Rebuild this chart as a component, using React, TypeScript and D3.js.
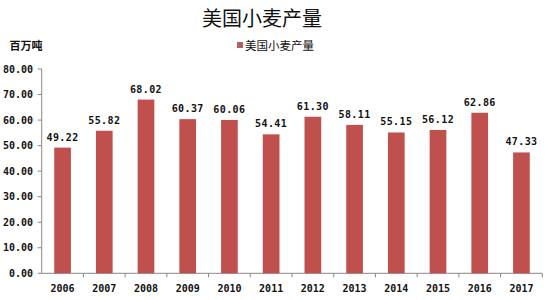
import React from "react";
import * as d3 from "d3";

const years = ["2006","2007","2008","2009","2010","2011","2012","2013","2014","2015","2016","2017"];
const values = [49.22,55.82,68.02,60.37,60.06,54.41,61.30,58.11,55.15,56.12,62.86,47.33];
const yTicks = [0,10,20,30,40,50,60,70,80];
const title = "美国小麦产量";
const seriesName = "美国小麦产量";
const unitLabel = "百万吨";

export default function App() {
  const W = 550, H = 300;
  const left = 41.7, right = 542.3, top = 69, bottom = 273.3;
  const x = d3.scaleBand<string>().domain(years).range([left, right]).paddingInner(0.6).paddingOuter(0.3);
  const y = d3.scaleLinear().domain([0, 80]).range([bottom, top]);
  const color = "#C0504D";
  const axisColor = "#888";
  const step = x.step();
  const monoFont = "'DejaVu Sans Mono', 'Liberation Mono', monospace";
  return (
    <svg width={W} height={H} style={{ position: "absolute", left: 0, top: 0, background: "#fff" }}>
      <rect width={W} height={H} fill="#fff" />
      <text x={262} y={26} textAnchor="middle" fontFamily="'Noto Sans CJK SC', sans-serif" fontWeight="400" fontSize={20} fill="#111">{title}</text>
      <text x={26} y={50} textAnchor="middle" fontFamily="'Noto Sans CJK SC', sans-serif" fontWeight="bold" fontSize={11} fill="#111">{unitLabel}</text>
      <rect x={237} y={42} width={6} height={6} fill="#B0606A" />
      <text x={245} y={49.5} fontFamily="'Noto Sans CJK SC', sans-serif" fontSize={11.5} fill="#111">{seriesName}</text>
      {/* y axis */}
      <line x1={left} x2={left} y1={top} y2={bottom} stroke={axisColor} strokeWidth={1} />
      {yTicks.map((t) => (
        <g key={t}>
          <line x1={left - 4} x2={left} y1={y(t)} y2={y(t)} stroke={axisColor} />
          <text x={33} y={y(t) + 3.5} textAnchor="end" fontFamily={monoFont} fontWeight="bold" fontSize={10} fill="#111">{t.toFixed(2)}</text>
        </g>
      ))}
      {/* x axis */}
      <line x1={left} x2={right} y1={bottom} y2={bottom} stroke={axisColor} />
      {years.map((yr, i) => (
        <line key={"t" + yr} x1={left + step * (i + 1)} x2={left + step * (i + 1)} y1={bottom} y2={bottom + 4} stroke={axisColor} />
      ))}
      {years.map((yr, i) => {
        const cx = (x(yr) as number) + x.bandwidth() / 2;
        return (
          <g key={yr}>
            <rect x={x(yr)} y={y(values[i])} width={x.bandwidth()} height={bottom - y(values[i])} fill={color} />
            <text x={cx} y={y(values[i]) - 7} textAnchor="middle" fontFamily={monoFont} fontWeight="bold" fontSize={10} letterSpacing={0.4} fill="#111">{values[i].toFixed(2)}</text>
            <text x={cx} y={292} textAnchor="middle" fontFamily={monoFont} fontWeight="bold" fontSize={10} fill="#111">{yr}</text>
          </g>
        );
      })}
    </svg>
  );
}
